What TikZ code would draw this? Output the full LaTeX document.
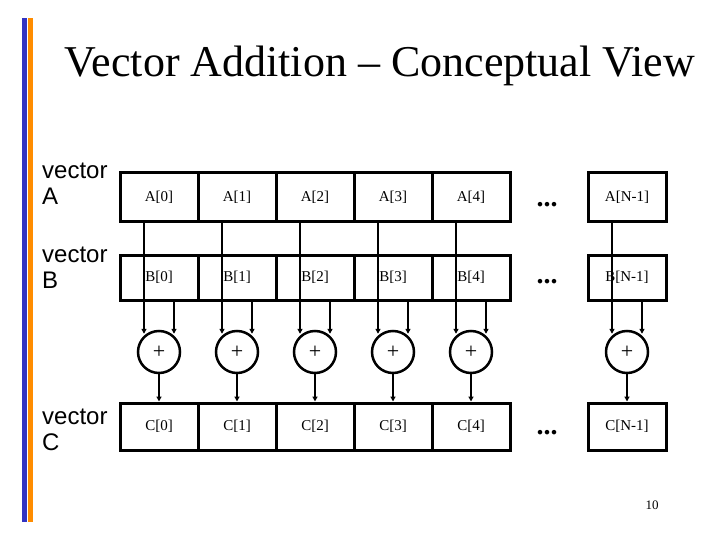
\documentclass[tikz,border=0pt]{standalone}
\usepackage{fontspec}
\setmainfont{Liberation Serif}
\newfontfamily\sansf{Liberation Sans}
\usetikzlibrary{arrows.meta}
\begin{document}
\begin{tikzpicture}[x=1pt,y=-1pt,
  cell/.style={draw,line width=3pt,minimum width=78pt,inner sep=0pt,font=\fontsize{15}{15}\selectfont},
  add/.style={draw,circle,line width=2.5pt,minimum size=42pt,inner sep=0pt,font=\fontsize{22}{22}\selectfont},
  lab/.style={anchor=north west,align=left,font=\sansf\fontsize{24}{26}\selectfont,inner sep=0pt},
  con/.style={line width=1.5pt,-{Triangle[length=5pt,width=5pt]}}]
\useasboundingbox (0,0) rectangle (720,540);
\fill[blue!70!black!80] (22,18) rectangle (27,522);
\fill[orange!90!yellow] (28,18) rectangle (33,522);
\node[font=\fontsize{44}{44}\selectfont] (title) at (380,66) {Vector Addition – Conceptual View};
\node[lab] (va) at (42,163) {vector\\A};
\node[lab] (vb) at (42,247) {vector\\B};
\node[lab] (vc) at (42,409) {vector\\C};
\foreach \i/\x in {0/159,1/237,2/315,3/393,4/471} {
  \node[cell,minimum height=49pt] (a\i) at (\x,197.5) {A[\i]};
  \node[cell,minimum height=45pt] (b\i) at (\x,277.5) {B[\i]};
  \node[cell,minimum height=47pt] (c\i) at (\x,426.5) {C[\i]};
  \node[add] (p\i) at (\x,352) {+};
}
\node[cell,minimum height=49pt] (aN) at (627,197.5) {A[N-1]};
\node[cell,minimum height=45pt] (bN) at (627,277.5) {B[N-1]};
\node[cell,minimum height=47pt] (cN) at (627,426.5) {C[N-1]};
\node[add] (pN) at (627,352) {+};
\foreach \n in {0,1,2,3,4,N} {
  \draw[con] ([xshift=-15pt]a\n.south) -- ([xshift=-15pt]a\n.south |- p\n.125);
  \draw[con] ([xshift=15pt]b\n.south) -- ([xshift=15pt]b\n.south |- p\n.55);
  \draw[con] (p\n.south) -- (c\n.north);
}
\foreach \y/\m in {205/d1,282/d2,433/d3}
  \node[font=\bfseries\fontsize{28}{28}\selectfont] (\m) at (547,\y) {...};
\node[font=\fontsize{13}{13}\selectfont] (pg) at (652,505) {10};
\end{tikzpicture}
\end{document}
